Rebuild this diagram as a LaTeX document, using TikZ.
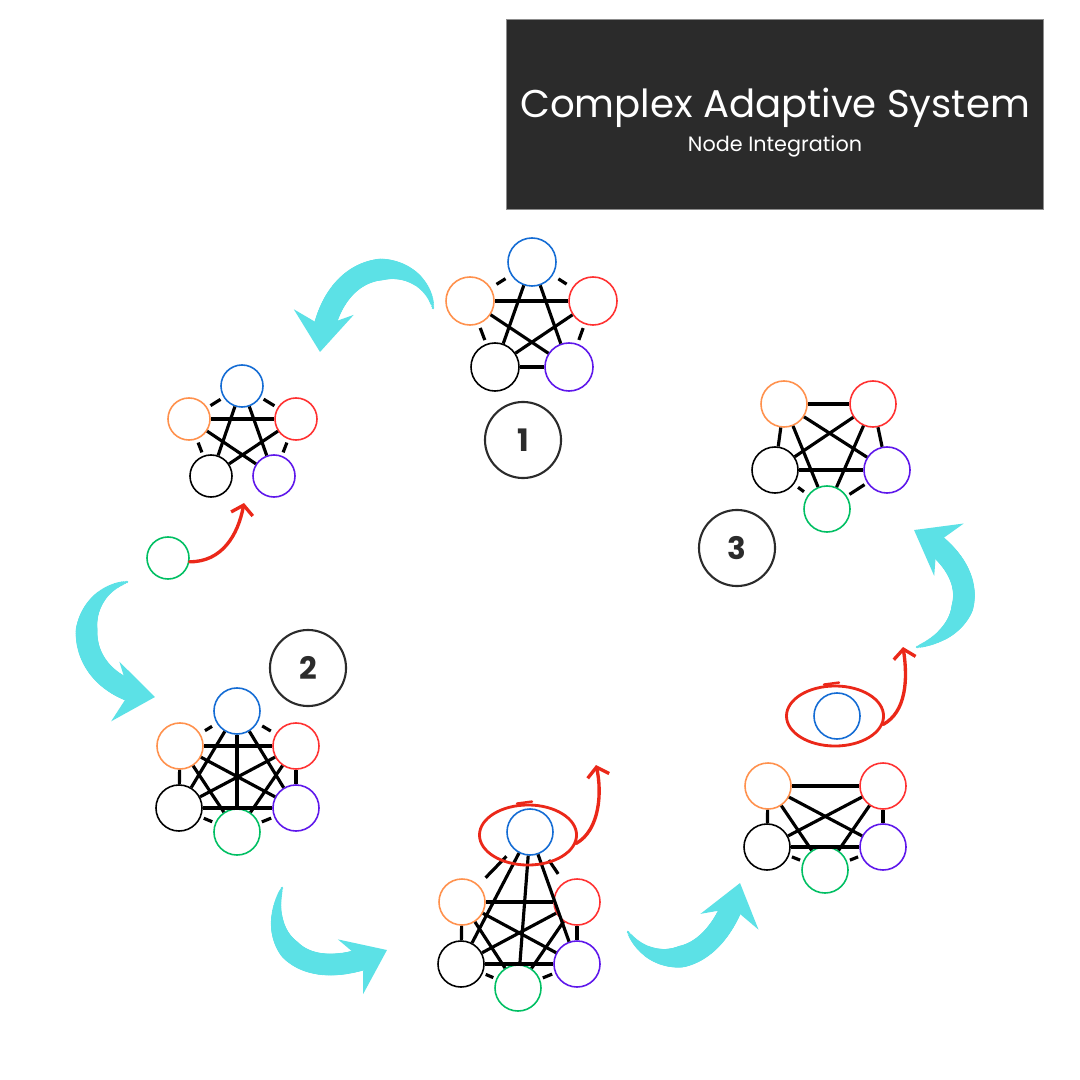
\documentclass[tikz,border=0pt]{standalone}
\usepackage{fontspec}
\setmainfont{Poppins}
\usetikzlibrary{arrows.meta, shapes.geometric, decorations.markings}
\definecolor{nblue}{RGB}{20,108,212}
\definecolor{norange}{RGB}{255,145,77}
\definecolor{nred}{RGB}{255,49,49}
\definecolor{npurple}{RGB}{94,23,235}
\definecolor{ngreen}{RGB}{0,191,99}
\definecolor{aqua}{RGB}{92,225,230}
\definecolor{redpen}{RGB}{235,40,25}
\definecolor{ink}{RGB}{43,43,43}

\begin{document}
\begin{tikzpicture}[
  x=0.01cm, y=-0.01cm,
  dot/.style={circle, draw=#1, line width=0.45pt, minimum size=0.46cm, inner sep=0pt},
  link/.style={line width=0.9pt},
  gapline/.style={link, shorten <=#1, shorten >=#1},
  gapline/.default=0.04cm,
  stage/.style={circle, draw=ink, line width=0.6pt, minimum size=0.76cm, inner sep=0pt,
    text=ink, font=\bfseries\fontsize{8.8}{10}\selectfont},
  ring/.style={ellipse, draw=redpen, line width=0.8pt, minimum width=0.97cm, minimum height=0.6cm, inner sep=0pt},
  redarrow/.style={draw=redpen, line width=0.95pt, line cap=round, -{Straight Barb[length=0.09cm, width=0.22cm]}},
  swoosh/.style={color=aqua, decoration={markings,
    mark=between positions 0 and 0.86 step 0.01 with {
      \fill[aqua] (0,0) circle ({min(3.1,0.3+0.07*\pgfkeysvalueof{/pgf/decoration/mark info/sequence number})*1pt});},
    mark=at position 1 with {\arrow{Stealth[length=0.4cm, width=0.6cm, inset=0.14cm]}}},
    postaction=decorate}
]
\fill[white] (0,0) rectangle (1080,1080);
\useasboundingbox (0,0) rectangle (1080,1080);

% title panel
\node[fill=ink, draw=black!45, line width=0.3pt, minimum width=5.36cm, minimum height=1.89cm] (panel) at (775,114.5) {};
\node[anchor=base, text=white, font=\fontsize{11}{12}\selectfont] (title) at (775,118) {Complex Adaptive System};
\node[anchor=base, text=white, font=\fontsize{5.9}{7}\selectfont] (subtitle) at (775,152) {Node Integration};

% stage 1
\node[dot=nblue, minimum size=0.48cm] (a1) at (532,262) {};
\node[dot=norange, minimum size=0.48cm] (a2) at (470,301) {};
\node[dot=nred, minimum size=0.48cm] (a3) at (593,301) {};
\node[dot=black, minimum size=0.48cm] (a4) at (495,367) {};
\node[dot=npurple, minimum size=0.48cm] (a5) at (569,367) {};
\draw[gapline=0.065cm] (a1)--(a2); \draw[gapline=0.065cm] (a1)--(a3);
\draw[gapline] (a2)--(a4); \draw[gapline] (a3)--(a5);
\draw[link] (a4)--(a5); \draw[link] (a2)--(a3); \draw[link] (a1)--(a4);
\draw[link] (a1)--(a5); \draw[link] (a2)--(a5); \draw[link] (a3)--(a4);
\node[stage] (n1) at (523,440) {1};

% green node joins
\node[dot=nblue, minimum size=0.42cm] (b1) at (242,386) {};
\node[dot=norange, minimum size=0.42cm] (b2) at (189,419) {};
\node[dot=nred, minimum size=0.42cm] (b3) at (296,419) {};
\node[dot=black, minimum size=0.42cm] (b4) at (211,476) {};
\node[dot=npurple, minimum size=0.42cm] (b5) at (274,476) {};
\node[dot=ngreen, minimum size=0.42cm] (b6) at (168,558) {};
\draw[gapline=0.035cm] (b1)--(b2); \draw[gapline=0.035cm] (b1)--(b3);
\draw[gapline=0.035cm] (b2)--(b4); \draw[gapline=0.035cm] (b3)--(b5);
\draw[link] (b2)--(b3); \draw[link] (b1)--(b4); \draw[link] (b1)--(b5);
\draw[link] (b2)--(b5); \draw[link] (b3)--(b4);
\coordinate (u1) at (244,503);
\draw[redarrow] (b6.-10) .. controls (222,562) and (238,535) .. (u1);

% stage 2
\node[dot=nblue] (c1) at (237,711) {};
\node[dot=norange] (c2) at (180,746) {};
\node[dot=nred] (c3) at (296,746) {};
\node[dot=black] (c4) at (179,808) {};
\node[dot=npurple] (c5) at (296,808) {};
\node[dot=ngreen] (c6) at (237,832) {};
\draw[gapline=0.055cm] (c1)--(c2); \draw[gapline=0.055cm] (c1)--(c3);
\draw[gapline=0.03cm] (c4)--(c6); \draw[gapline=0.03cm] (c6)--(c5);
\draw[link] (c2)--(c4); \draw[link] (c3)--(c5); \draw[link] (c2)--(c3);
\draw[link] (c4)--(c5); \draw[link] (c1)--(c6); \draw[link] (c1)--(c4);
\draw[link] (c1)--(c5); \draw[link] (c2)--(c5); \draw[link] (c3)--(c4);
\draw[link] (c2)--(c6); \draw[link] (c3)--(c6);
\node[stage] (n2) at (308,668) {2};

% blue node leaves
\node[dot=nblue] (d1) at (530,832) {};
\node[dot=norange] (d2) at (462,902) {};
\node[dot=nred] (d3) at (577,902) {};
\node[dot=black] (d4) at (461,964) {};
\node[dot=npurple] (d5) at (577,964) {};
\node[dot=ngreen] (d6) at (518,988) {};
\draw[gapline=0.1cm] (d1)--(d2); \draw[gapline=0.1cm] (d1)--(d3);
\draw[gapline=0.03cm] (d4)--(d6); \draw[gapline=0.03cm] (d6)--(d5);
\draw[link] (d2)--(d4); \draw[link] (d3)--(d5); \draw[link] (d2)--(d3);
\draw[link] (d4)--(d5); \draw[link] (d1)--(d6); \draw[link] (d1)--(d4);
\draw[link] (d1)--(d5); \draw[link] (d2)--(d5); \draw[link] (d3)--(d4);
\draw[link] (d2)--(d6); \draw[link] (d3)--(d6);
\node[ring] (dl) at (528,835) {};
\draw[redpen, line width=0.7pt, line cap=round] ([shift={(-0.11cm,0cm)}]dl.north) -- ++(0.15cm,0.02cm);
\coordinate (u2) at (596,765);
\draw[redarrow] (dl.-10) .. controls (600,830) and (602,792) .. (u2);

% blue node outside
\node[dot=nblue] (e1) at (837,716) {};
\node[dot=norange] (e2) at (768,786) {};
\node[dot=nred] (e3) at (883,786) {};
\node[dot=black] (e4) at (767,847) {};
\node[dot=npurple] (e5) at (883,847) {};
\node[dot=ngreen] (e6) at (825,870) {};
\draw[gapline=0.03cm] (e4)--(e6); \draw[gapline=0.03cm] (e6)--(e5);
\draw[link] (e2)--(e3); \draw[link] (e2)--(e4); \draw[link] (e3)--(e5);
\draw[link] (e4)--(e5); \draw[link] (e2)--(e5); \draw[link] (e3)--(e4);
\draw[link] (e2)--(e6); \draw[link] (e3)--(e6);
\node[ring] (el) at (835,716) {};
\draw[redpen, line width=0.7pt, line cap=round] ([shift={(-0.11cm,0cm)}]el.north) -- ++(0.15cm,0.02cm);
\coordinate (u3) at (903,647);
\draw[redarrow] (el.-10) .. controls (906,712) and (908,680) .. (u3);

% stage 3
\node[dot=norange] (f2) at (784,404) {};
\node[dot=nred] (f3) at (873,404) {};
\node[dot=black] (f4) at (775,470) {};
\node[dot=npurple] (f5) at (887,470) {};
\node[dot=ngreen] (f6) at (827,509) {};
\draw[gapline=0.05cm] (f4)--(f6); \draw[gapline=0.03cm] (f6)--(f5);
\draw[link] (f2)--(f3); \draw[link] (f2)--(f4); \draw[link] (f3)--(f5);
\draw[link] (f4)--(f5); \draw[link] (f2)--(f5); \draw[link] (f3)--(f4);
\draw[link] (f2)--(f6); \draw[link] (f3)--(f6);
\node[stage] (n3) at (737,548) {3};

% cycle arrows
\coordinate (t1) at (433,308); \coordinate (h1) at (320,352);
\coordinate (t2) at (127,582); \coordinate (h2) at (155,697);
\coordinate (t3) at (282,888); \coordinate (h3) at (387,950);
\coordinate (t4) at (628,932); \coordinate (h4) at (740,883);
\coordinate (t5) at (917,647); \coordinate (h5) at (914,530);
\path[swoosh] (t1) .. controls (425,255) and (330,245) .. (h1);
\path[swoosh] (t2) .. controls (70,595) and (68,685) .. (h2);
\path[swoosh] (t3) .. controls (262,940) and (300,990) .. (h3);
\path[swoosh] (t4) .. controls (650,970) and (715,975) .. (h4);
\path[swoosh] (t5) .. controls (975,630) and (985,570) .. (h5);
\end{tikzpicture}
\end{document}
